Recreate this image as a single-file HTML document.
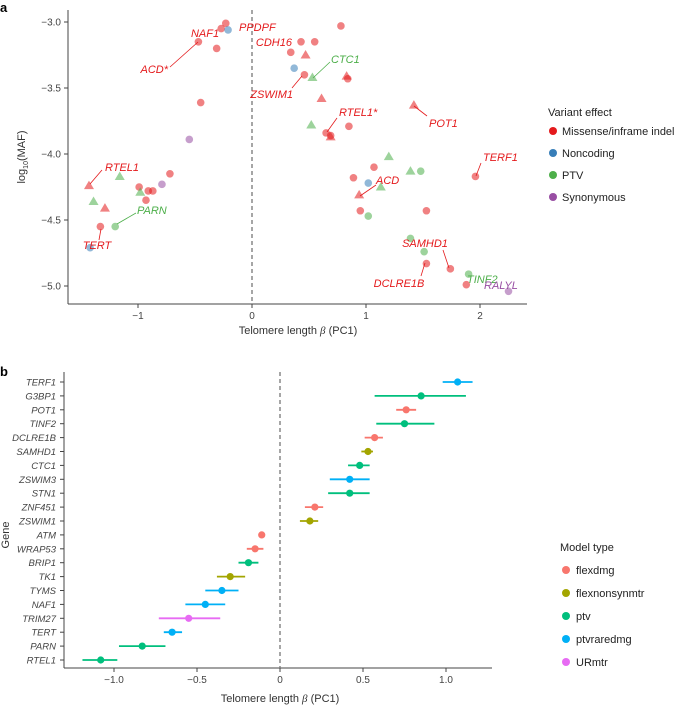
<!DOCTYPE html>
<html><head><meta charset="utf-8"><style>
body{margin:0;background:#fff;}
svg{display:block;font-family:"Liberation Sans",sans-serif;}
</style></head><body>
<svg id="fig" width="685" height="706" viewBox="0 0 685 706" xmlns="http://www.w3.org/2000/svg">
<text x="0" y="12" font-size="13" font-weight="bold">a</text>
<text x="0" y="376" font-size="13" font-weight="bold">b</text>
<g id="pa"></g>
<g id="pb"></g>
</svg>
<script>
// ---------- Panel a data ----------
const aX = [-0.23,-0.27,-0.47,-0.31,-0.45,-0.72,-0.99,-0.91,-0.87,-0.93,-1.33,0.78,0.43,0.55,0.34,0.46,0.84,0.85,0.65,0.69,1.07,0.89,0.95,1.53,1.74,1.53,1.88,1.96,
 0.47,0.83,0.61,1.42,0.69,0.94,-1.43,-1.29,
 -0.21,0.37,1.02,-1.42,
 -1.2,1.48,1.02,1.39,1.51,1.9,
 0.53,0.52,1.2,1.39,1.13,-1.16,-0.98,-1.39,
 -0.55,-0.79,2.25];
const aY = [-3.01,-3.05,-3.15,-3.2,-3.61,-4.15,-4.25,-4.28,-4.28,-4.35,-4.55,-3.03,-3.15,-3.15,-3.23,-3.4,-3.43,-3.79,-3.84,-3.86,-4.1,-4.18,-4.43,-4.43,-4.87,-4.83,-4.99,-4.17,
 -3.25,-3.41,-3.58,-3.63,-3.87,-4.31,-4.24,-4.41,
 -3.06,-3.35,-4.22,-4.71,
 -4.55,-4.13,-4.47,-4.64,-4.74,-4.91,
 -3.42,-3.78,-4.02,-4.13,-4.25,-4.17,-4.29,-4.36,
 -3.89,-4.23,-5.04];
const aEffect = [0,0,0,0,0,0,0,0,0,0,0,0,0,0,0,0,0,0,0,0,0,0,0,0,0,0,0,0,
 0,0,0,0,0,0,0,0, 1,1,1,1, 2,2,2,2,2,2, 2,2,2,2,2,2,2,2, 3,3,3];
const aShape = [0,0,0,0,0,0,0,0,0,0,0,0,0,0,0,0,0,0,0,0,0,0,0,0,0,0,0,0,
 1,1,1,1,1,1,1,1, 0,0,0,0, 0,0,0,0,0,0, 1,1,1,1,1,1,1,1, 0,0,0];
const aXTicks = [-1,0,1,2];
const aYTicks = [-3.0,-3.5,-4.0,-4.5,-5.0];
const effectNames = ["Missense/inframe indel","Noncoding","PTV","Synonymous"];
const effectCols = ["#e41a1c","#377eb8","#4daf4a","#984ea3"];

// ---------- Panel b data ----------
const genes = ["TERF1","G3BP1","POT1","TINF2","DCLRE1B","SAMHD1","CTC1","ZSWIM3","STN1","ZNF451","ZSWIM1","ATM","WRAP53","BRIP1","TK1","TYMS","NAF1","TRIM27","TERT","PARN","RTEL1"];
const bEst = [1.07,0.85,0.76,0.75,0.57,0.53,0.48,0.42,0.42,0.21,0.18,-0.11,-0.15,-0.19,-0.30,-0.35,-0.45,-0.55,-0.65,-0.83,-1.08];
const bLo = [0.98,0.57,0.70,0.58,0.51,0.49,0.41,0.30,0.29,0.15,0.12,-0.13,-0.20,-0.25,-0.38,-0.45,-0.57,-0.73,-0.70,-0.97,-1.19];
const bHi = [1.16,1.12,0.82,0.93,0.62,0.56,0.54,0.54,0.54,0.26,0.23,-0.09,-0.10,-0.13,-0.21,-0.25,-0.33,-0.36,-0.59,-0.69,-0.98];
const bModel = [3,2,0,2,0,1,2,3,2,0,1,0,0,2,1,3,3,4,3,2,2];
const bXTicks = [-1.0,-0.5,0,0.5,1.0];
const modelNames = ["flexdmg","flexnonsynmtr","ptv","ptvraredmg","URmtr"];
const modelCols = ["#F8766D","#A3A500","#00BF7D","#00B0F6","#E76BF3"];

const NS="http://www.w3.org/2000/svg";
function mk(parent,tag,attrs,text){const e=document.createElementNS(NS,tag);for(const k in attrs)e.setAttribute(k,attrs[k]);if(text!==undefined)e.textContent=text;parent.appendChild(e);return e;}

// Panel a
const pa=document.getElementById('pa');
const ax=v=>252+114*v, ay=v=>22+(-3-v)*132;
let e;
e=mk(pa,'line',{x1:68,y1:10,x2:68,y2:304,stroke:'#444','stroke-width':1});


e=mk(pa,'line',{x1:68,y1:304,x2:527,y2:304,stroke:'#444','stroke-width':1});


e=mk(pa,'line',{x1:ax(0),y1:10,x2:ax(0),y2:304,stroke:'#777','stroke-width':1.3,'stroke-dasharray':'4,3'});


aXTicks.forEach(t=>{
  mk(pa,'line',{x1:ax(t),y1:304,x2:ax(t),y2:308,stroke:'#444'});
  e=mk(pa,'text',{x:ax(t),y:319,'font-size':10,fill:'#444','text-anchor':'middle'},t===0?'0':(t<0?'−':'')+Math.abs(t));
  
  
});
aYTicks.forEach(t=>{
  mk(pa,'line',{x1:64,y1:ay(t),x2:68,y2:ay(t),stroke:'#444'});
  e=mk(pa,'text',{x:61,y:ay(t)+3.5,'font-size':10,fill:'#444','text-anchor':'end'},'−'+Math.abs(t).toFixed(1));
  
  
});
e=mk(pa,'text',{x:298,y:334,'font-size':11,fill:'#333','text-anchor':'middle'},'Telomere length ');


mk(e,'tspan',{'font-style':'italic','font-family':'Liberation Serif'},'β');
mk(e,'tspan',{},' (PC1)');
e=mk(pa,'text',{transform:'translate(25,157) rotate(-90)','font-size':11,fill:'#333','text-anchor':'middle'},'log');


mk(e,'tspan',{'font-size':7,dy:3},'10');
mk(e,'tspan',{dy:-3},'(MAF)');
// leader lines & labels (pixel annotation positions)
const labels=[
 ['PPDPF',239,31,'start',0],['NAF1',205,37,'middle',0],['ACD*',168,73,'end',0],['CDH16',292,46,'end',0],
 ['ZSWIM1',293,98,'end',0],['CTC1',331,63,'start',2],['RTEL1*',339,116,'start',0],['POT1',429,127,'start',0],
 ['TERF1',483,161,'start',0],['ACD',376,184,'start',0],['SAMHD1',425,247,'middle',0],['DCLRE1B',399,287,'middle',0],
 ['TINF2',467,283,'start',2],['RALYL',484,289,'start',3],['RTEL1',105,171,'start',0],['PARN',137,214,'start',2],['TERT',97,249,'middle',0]];
const leaders=[[170,67,198,42,0],[292,88,302,76,0],[330,62,313,78,2],[337,118,327,132,0],[427,116,414,106,0],[481,163,476,176,0],
 [376,185,360,196,0],[443,250,449,268,0],[421,276,425,263,0],[102,170,90,184,0],[136,213,117,224,2],[99,240,101,229,0]];
leaders.forEach(l=>{e=mk(pa,'line',{x1:l[0],y1:l[1],x2:l[2],y2:l[3],stroke:effectCols[l[4]],'stroke-width':0.8});
 
 });
aX.forEach((v,i)=>{
  const cx=ax(v),cy=ay(aY[i]),c=effectCols[aEffect[i]];
  if(aShape[i]===0){e=mk(pa,'circle',{cx:cx,cy:cy,r:3.8,fill:c,'fill-opacity':0.55});}
  else{e=mk(pa,'polygon',{points:`${cx},${cy-5} ${cx-5},${cy+3.5} ${cx+5},${cy+3.5}`,fill:c,'fill-opacity':0.55});}
  
  
});
labels.forEach(l=>{e=mk(pa,'text',{x:l[1],y:l[2],'font-size':11,'font-style':'italic',fill:effectCols[l[4]],'text-anchor':l[3]},l[0]);
 
 });
e=mk(pa,'text',{x:548,y:116,'font-size':11,fill:'#222'},'Variant effect');


effectNames.forEach((n,i)=>{const y=131+i*22;
  e=mk(pa,'circle',{cx:553,cy:y,r:4,fill:effectCols[i]});
  
  
  e=mk(pa,'text',{x:562,y:y+4,'font-size':11,fill:'#222'},n);
  
  
});

// Panel b
const pb=document.getElementById('pb');
const bx=v=>280+166*v, by=i=>382+i*13.9;
e=mk(pb,'line',{x1:64,y1:372,x2:64,y2:668,stroke:'#444'});


e=mk(pb,'line',{x1:64,y1:668,x2:492,y2:668,stroke:'#444'});


e=mk(pb,'line',{x1:bx(0),y1:372,x2:bx(0),y2:668,stroke:'#777','stroke-width':1.3,'stroke-dasharray':'4,3'});


bXTicks.forEach(t=>{
  mk(pb,'line',{x1:bx(t),y1:668,x2:bx(t),y2:672,stroke:'#444'});
  e=mk(pb,'text',{x:bx(t),y:683,'font-size':10,fill:'#444','text-anchor':'middle'},t===0?'0':(t<0?'−':'')+Math.abs(t).toFixed(1));
  
  
});
genes.forEach((g,i)=>{
  mk(pb,'line',{x1:60,y1:by(i),x2:64,y2:by(i),stroke:'#444'});
  e=mk(pb,'text',{x:56,y:by(i)+3.5,'font-size':9.5,'font-style':'italic',fill:'#444','text-anchor':'end'},g);
  
  
  const c=modelCols[bModel[i]];
  e=mk(pb,'line',{x1:bx(bLo[i]),y1:by(i),x2:bx(bHi[i]),y2:by(i),stroke:c,'stroke-width':1.8});
  
  
  e=mk(pb,'circle',{cx:bx(bEst[i]),cy:by(i),r:3.6,fill:c});
  
  
});
e=mk(pb,'text',{x:280,y:702,'font-size':11,fill:'#333','text-anchor':'middle'},'Telomere length ');


mk(e,'tspan',{'font-style':'italic','font-family':'Liberation Serif'},'β');
mk(e,'tspan',{},' (PC1)');
e=mk(pb,'text',{transform:'translate(9,535) rotate(-90)','font-size':11,fill:'#333','text-anchor':'middle'},'Gene');


e=mk(pb,'text',{x:560,y:551,'font-size':11,fill:'#222'},'Model type');


modelNames.forEach((n,i)=>{const y=570+i*23;
  e=mk(pb,'circle',{cx:566,cy:y,r:4,fill:modelCols[i]});
  
  
  e=mk(pb,'text',{x:576,y:y+4,'font-size':11,fill:'#222'},n);
  
  
});
</script>
</body></html>
